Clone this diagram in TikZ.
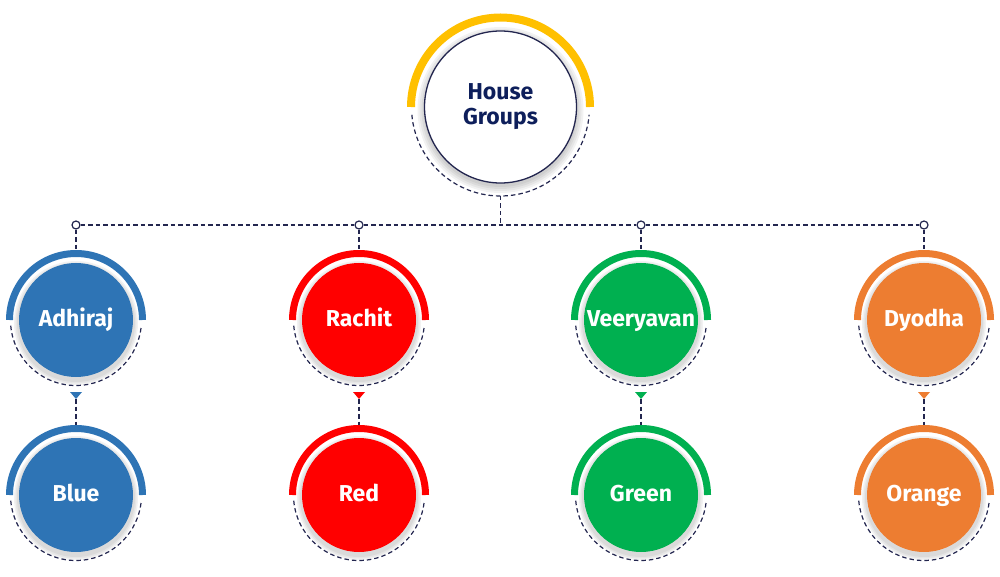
\documentclass[tikz,border=0pt]{standalone}
\usepackage{fontspec}
\setmainfont{Fira Sans}
\definecolor{hnavy}{HTML}{23264F}
\definecolor{htitle}{HTML}{0E1F5B}
\definecolor{hyellow}{HTML}{FFC000}
\definecolor{hblue}{HTML}{2E74B5}
\definecolor{hred}{HTML}{FF0000}
\definecolor{hgreen}{HTML}{00B050}
\definecolor{horange}{HTML}{ED7D31}
\begin{document}
\begin{tikzpicture}[x=1pt, y=1pt,
	disc/.style={circle, minimum size=114pt, inner sep=0pt, text height=17pt, text depth=5pt, text=white, font=\bfseries\fontsize{23}{25}\selectfont},
	link/.style={hnavy, line width=1.2pt, dash pattern=on 4.5pt off 3pt},
	band/.style={line width=7pt},
	joint/.style={circle, draw=hnavy, fill=white, line width=1.2pt, minimum size=8pt, inner sep=0pt},
	halo/.style={fill=black, opacity=0.05}]
	\useasboundingbox (0,0) rectangle (1000,576);
	% top node
	\foreach \r in {83,81,79,77} {\fill[halo] (500.5,466) circle (\r pt);}
	\node[circle, draw=hnavy, line width=1.3pt, fill=white, minimum size=152pt, inner sep=0pt, align=center, text=htitle, font=\bfseries\fontsize{23}{25}\selectfont] (house) at (500.5,469) {House\\Groups};
	\draw[hyellow, line width=8pt] ([shift={(180:89.5pt)}]house.center) arc[start angle=180, end angle=0, radius=89.5pt];
	\draw[link] ([shift={(185:89pt)}]house.center) arc[start angle=185, end angle=355, radius=89pt];
	\coordinate (hbot) at ([yshift=-89pt]house.center);
	\coordinate (bus) at (500.5,351);
	\draw[link] (hbot) -- (bus);
	% four house columns
	\foreach \i/\x/\col/\up/\down in {1/76/hblue/Adhiraj/Blue, 2/359/hred/Rachit/Red, 3/641/hgreen/Veeryavan/Green, 4/924/horange/Dyodha/Orange} {
		\node[joint] (dot\i) at (\x,351) {};
		\foreach \r in {62,60.5,59} {\fill[halo] (\x,253) circle (\r pt); \fill[halo] (\x,78) circle (\r pt);}
		\node[disc, fill=\col] (grp\i) at (\x,256) {\up};
		\draw[band, \col] ([shift={(180:66.5pt)}]grp\i.center) arc[start angle=180, end angle=0, radius=66.5pt];
		\draw[link] ([shift={(185:65.5pt)}]grp\i.center) arc[start angle=185, end angle=355, radius=65.5pt];
		\coordinate (top\i) at ([yshift=70pt]grp\i.center);
		\draw[link] (dot\i) -- (top\i);
		\fill[\col] (\x-6,184) -- (\x+6,184) -- (\x,177) -- cycle;
		\coordinate (tri\i) at (\x,177);
		\node[disc, fill=\col] (sub\i) at (\x,81) {\down};
		\draw[band, \col] ([shift={(180:66.5pt)}]sub\i.center) arc[start angle=180, end angle=0, radius=66.5pt];
		\draw[link] ([shift={(185:65.5pt)}]sub\i.center) arc[start angle=185, end angle=355, radius=65.5pt];
		\coordinate (subtop\i) at ([yshift=70pt]sub\i.center);
		\draw[link] (tri\i) -- (subtop\i);
	}
	\draw[link] (dot1) -- (dot2) -- (dot3) -- (dot4);
\end{tikzpicture}
\end{document}
